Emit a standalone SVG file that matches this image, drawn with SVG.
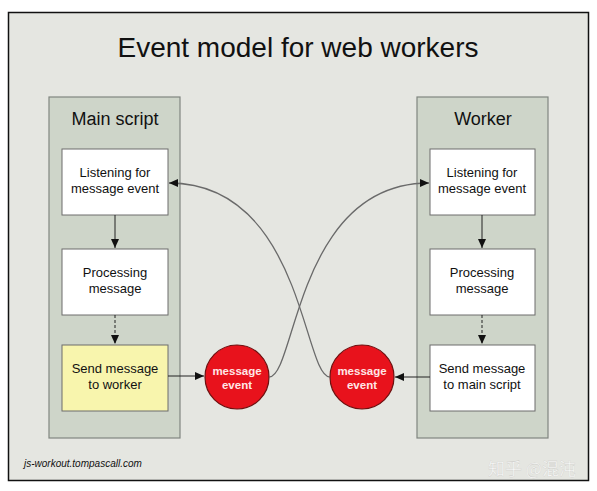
<svg xmlns="http://www.w3.org/2000/svg" width="597" height="491" viewBox="0 0 597 491">
<style>
.t{font-family:"Liberation Sans",Arial,sans-serif;fill:#111}
.box{fill:#ffffff;stroke:#6d6d6d;stroke-width:1}
.col{fill:#ced5c9;stroke:#808680;stroke-width:1.2}
.ev{fill:#e8121c;stroke:#6e1010;stroke-width:1.2}
.evt{font-family:"Liberation Sans",Arial,sans-serif;font-weight:bold;font-size:11.5px;fill:#ffe6e6;text-anchor:middle}
.bt{font-size:13px;text-anchor:middle}
.ln{fill:none;stroke:#222;stroke-width:1}
.cv{fill:none;stroke:#6a6a6a;stroke-width:1.3}
</style>
<defs>
<marker id="ah" markerWidth="10" markerHeight="8" refX="9" refY="4" orient="auto" markerUnits="userSpaceOnUse">
<path d="M0,0 L9,4 L0,8 Z" fill="#111"/>
</marker>
</defs>
<rect x="0" y="0" width="597" height="491" fill="#ffffff"/>
<rect x="8.5" y="12.5" width="580" height="468" fill="#e5e6e1" stroke="#111" stroke-width="1.5"/>
<text class="t" x="298" y="57" font-size="28" text-anchor="middle">Event model for web workers</text>

<g id="main-script">
<rect class="col" x="49" y="97" width="131" height="341"/>
<text class="t" x="115" y="125" font-size="18" text-anchor="middle">Main script</text>
</g>
<g id="worker">
<rect class="col" x="417" y="97" width="131" height="341"/>
<text class="t" x="483" y="125" font-size="18" text-anchor="middle">Worker</text>
</g>

<g id="main-listening">
<rect class="box" x="62" y="149" width="106" height="66"/>
<text class="t bt" x="115" y="177">Listening for</text>
<text class="t bt" x="115" y="193">message event</text>
</g>
<g id="main-processing">
<rect class="box" x="62" y="249" width="106" height="66"/>
<text class="t bt" x="115" y="277">Processing</text>
<text class="t bt" x="115" y="293">message</text>
</g>
<g id="main-send">
<rect x="62" y="345" width="106" height="66" fill="#f8f5ad" stroke="#6d6d6d"/>
<text class="t bt" x="115" y="373">Send message</text>
<text class="t bt" x="115" y="389">to worker</text>
</g>

<g id="worker-listening">
<rect class="box" x="430" y="149" width="105" height="66"/>
<text class="t bt" x="482" y="177">Listening for</text>
<text class="t bt" x="482" y="193">message event</text>
</g>
<g id="worker-processing">
<rect class="box" x="430" y="249" width="105" height="66"/>
<text class="t bt" x="482" y="277">Processing</text>
<text class="t bt" x="482" y="293">message</text>
</g>
<g id="worker-send">
<rect class="box" x="430" y="345" width="105" height="66"/>
<text class="t bt" x="482" y="373">Send message</text>
<text class="t bt" x="482" y="389">to main script</text>
</g>

<g id="event-left">
<circle class="ev" cx="237" cy="377" r="32"/>
<text class="evt" x="237" y="375">message</text>
<text class="evt" x="237" y="389">event</text>
</g>
<g id="event-right">
<circle class="ev" cx="362" cy="377" r="32"/>
<text class="evt" x="362" y="375">message</text>
<text class="evt" x="362" y="389">event</text>
</g>

<g id="connectors">
<line class="ln" x1="115" y1="215" x2="115" y2="248" marker-end="url(#ah)"/>
<line class="ln" x1="115" y1="315" x2="115" y2="344" stroke-dasharray="3,2" marker-end="url(#ah)"/>
<line class="ln" x1="482" y1="215" x2="482" y2="248" marker-end="url(#ah)"/>
<line class="ln" x1="482" y1="315" x2="482" y2="344" stroke-dasharray="3,2" marker-end="url(#ah)"/>
<line class="ln" x1="168" y1="376" x2="204" y2="376" marker-end="url(#ah)"/>
<line class="ln" x1="430" y1="377" x2="395" y2="377" marker-end="url(#ah)"/>
<path class="cv" d="M269,377 C296,377 296,183 429,183" marker-end="url(#ah)"/>
<path class="cv" d="M330,377 C303,377 303,183 169,183" marker-end="url(#ah)"/>
</g>

<text class="t" x="24" y="467" font-size="10" font-style="italic">js-workout.tompascall.com</text>
<text x="488" y="475" font-family="'Noto Sans CJK SC',sans-serif" font-size="17" fill="#fbfbfa" stroke="#c9c9c5" stroke-width="0.3">知乎 @混沌</text>
</svg>
